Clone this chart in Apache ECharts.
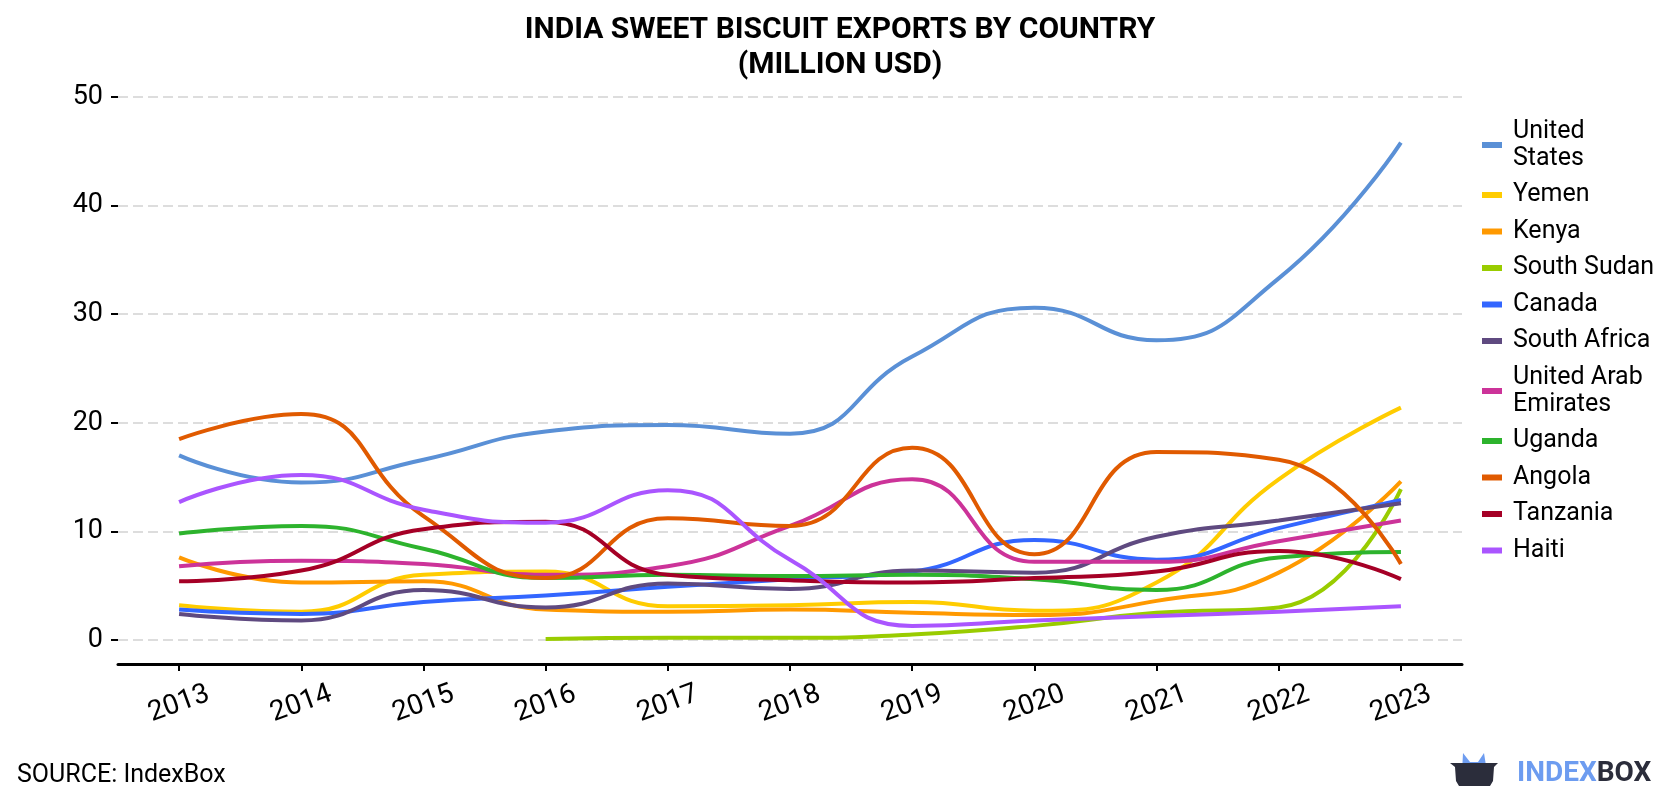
<!DOCTYPE html>
<html>
<head>
<meta charset="utf-8">
<script src="https://cdn.jsdelivr.net/npm/echarts@6/dist/echarts.min.js"></script>
<style>
  html, body { margin: 0; padding: 0; background: #fff; }
  #chart { width: 1680px; height: 800px; }
</style>
</head>
<body>
<div id="chart"></div>
<script>
// years on the x axis
var years = ['2013', '2014', '2015', '2016', '2017', '2018', '2019', '2020', '2021', '2022', '2023'];

// million USD
var unitedStates = [17.0, 14.5, 16.6, 19.2, 19.8, 19.0, 26.1, 30.6, 27.6, 33.3, 45.8];
var yemen        = [3.2, 2.6, 6.0, 6.3, 3.1, 3.2, 3.5, 2.7, 5.3, 14.8, 21.4];
var kenya        = [7.6, 5.3, 5.4, 2.8, 2.6, 2.8, 2.5, 2.3, 3.6, 6.2, 14.6];
var southSudan   = [null, null, null, 0.1, 0.2, 0.2, 0.5, 1.3, 2.5, 3.0, 13.9];
var canada       = [2.8, 2.4, 3.5, 4.1, 4.9, 5.6, 6.3, 9.2, 7.4, 10.3, 12.9];
var southAfrica  = [2.4, 1.8, 4.6, 3.0, 5.2, 4.7, 6.4, 6.2, 9.5, 11.0, 12.6];
var uae          = [6.8, 7.3, 7.0, 6.0, 6.8, 10.5, 14.8, 7.2, 7.2, 9.1, 11.0];
var uganda       = [9.8, 10.5, 8.4, 5.7, 6.0, 5.9, 6.0, 5.6, 4.6, 7.6, 8.1];
var angola       = [18.5, 20.8, 11.4, 5.7, 11.2, 10.5, 17.7, 7.9, 17.3, 16.6, 7.0];
var tanzania     = [5.4, 6.4, 10.2, 10.9, 6.0, 5.5, 5.3, 5.7, 6.3, 8.2, 5.6];
var haiti        = [12.7, 15.2, 12.0, 10.8, 13.8, 7.4, 1.3, 1.8, 2.2, 2.6, 3.1];

var names  = ['United States', 'Yemen', 'Kenya', 'South Sudan', 'Canada', 'South Africa',
              'United Arab Emirates', 'Uganda', 'Angola', 'Tanzania', 'Haiti'];
var values = [unitedStates, yemen, kenya, southSudan, canada, southAfrica, uae, uganda, angola, tanzania, haiti];
var colors = ['#5a90d6', '#ffcc00', '#ff9900', '#99cc00', '#3366ff', '#5f4a80',
              '#cc3399', '#2db32d', '#e05a00', '#a50026', '#aa55ff'];

// legend labels wrap like the original
var legendLabels = {
    'United States': 'United\nStates',
    'United Arab Emirates': 'United Arab\nEmirates'
};

var myChart = echarts.init(document.getElementById('chart'));

var series = [];
for (var i = 0; i < names.length; i++) {
    series.push({
        name: names[i],
        type: 'line',
        smooth: true,
        showSymbol: false,
        symbol: 'none',
        data: values[i],
        lineStyle: { width: 4, color: colors[i] },
        itemStyle: { color: colors[i] }
    });
}

var option = {
    animation: false,
    textStyle: { fontFamily: 'Roboto' },
    title: {
        text: 'INDIA SWEET BISCUIT EXPORTS BY COUNTRY\n(MILLION USD)',
        left: 'center',
        top: 8,
        textStyle: {
            fontFamily: 'Roboto',
            fontSize: 30,
            fontWeight: 'bold',
            color: '#000',
            lineHeight: 35
        }
    },
    legend: {
        orient: 'vertical',
        left: 1477,
        top: 113,
        icon: 'rect',
        itemWidth: 20,
        itemHeight: 6,
        itemGap: 9.5,
        data: names,
        formatter: function (name) {
            return legendLabels[name] || name;
        },
        textStyle: {
            fontFamily: 'Roboto',
            fontSize: 25,
            lineHeight: 27,
            color: '#000',
            padding: [0, 0, 0, 6]
        }
    },
    grid: {
        left: 118,
        right: 218,
        top: 97,
        bottom: 160,
        containLabel: false
    },
    xAxis: {
        type: 'category',
        data: years,
        boundaryGap: true,
        offset: 24,
        axisLine: { onZero: false, lineStyle: { color: '#000', width: 3 } },
        axisTick: { show: true, alignWithLabel: true, length: 7, lineStyle: { color: '#000', width: 2 } },
        axisLabel: {
            rotate: 20,
            align: 'center',
            verticalAlign: 'middle',
            margin: 40,
            fontFamily: 'Roboto',
            fontSize: 28,
            color: '#000'
        },
        splitLine: { show: false }
    },
    yAxis: {
        type: 'value',
        min: 0,
        max: 50,
        interval: 10,
        axisLine: { show: false },
        axisTick: { show: true, length: 7, lineStyle: { color: '#000', width: 2 } },
        axisLabel: {
            margin: 15,
            fontFamily: 'Roboto',
            fontSize: 27,
            color: '#000'
        },
        splitLine: {
            lineStyle: { color: '#dddddd', width: 2, type: [10, 5] }
        }
    },
    graphic: [
        {
            type: 'text',
            x: 17,
            y: 776,
            style: {
                text: 'SOURCE: IndexBox',
                fontFamily: 'Roboto',
                fontSize: 25,
                verticalAlign: 'middle',
                fill: '#000'
            }
        },
        // logo: blue crown behind a dark basket
        {
            type: 'polygon',
            shape: { points: [[1462, 772], [1463, 753], [1470, 762], [1478, 762], [1484, 753], [1487, 772]] },
            style: { fill: '#6d9cf0' }
        },
        {
            type: 'polygon',
            shape: { points: [[1450, 763], [1498, 763], [1494, 767], [1493, 781], [1490, 786], [1459, 786], [1456, 781], [1455, 767]] },
            style: { fill: '#2b2d3b' }
        },
        {
            type: 'text',
            x: 1517,
            y: 774,
            style: {
                text: '{a|INDEX}{b|BOX}',
                verticalAlign: 'middle',
                rich: {
                    a: { fontFamily: 'Roboto', fontSize: 28, fontWeight: 'bold', fill: '#6d9cf0' },
                    b: { fontFamily: 'Roboto', fontSize: 28, fontWeight: 'bold', fill: '#2b2d3b' }
                }
            }
        }
    ],
    series: series
};

myChart.setOption(option);
</script>
</body>
</html>
